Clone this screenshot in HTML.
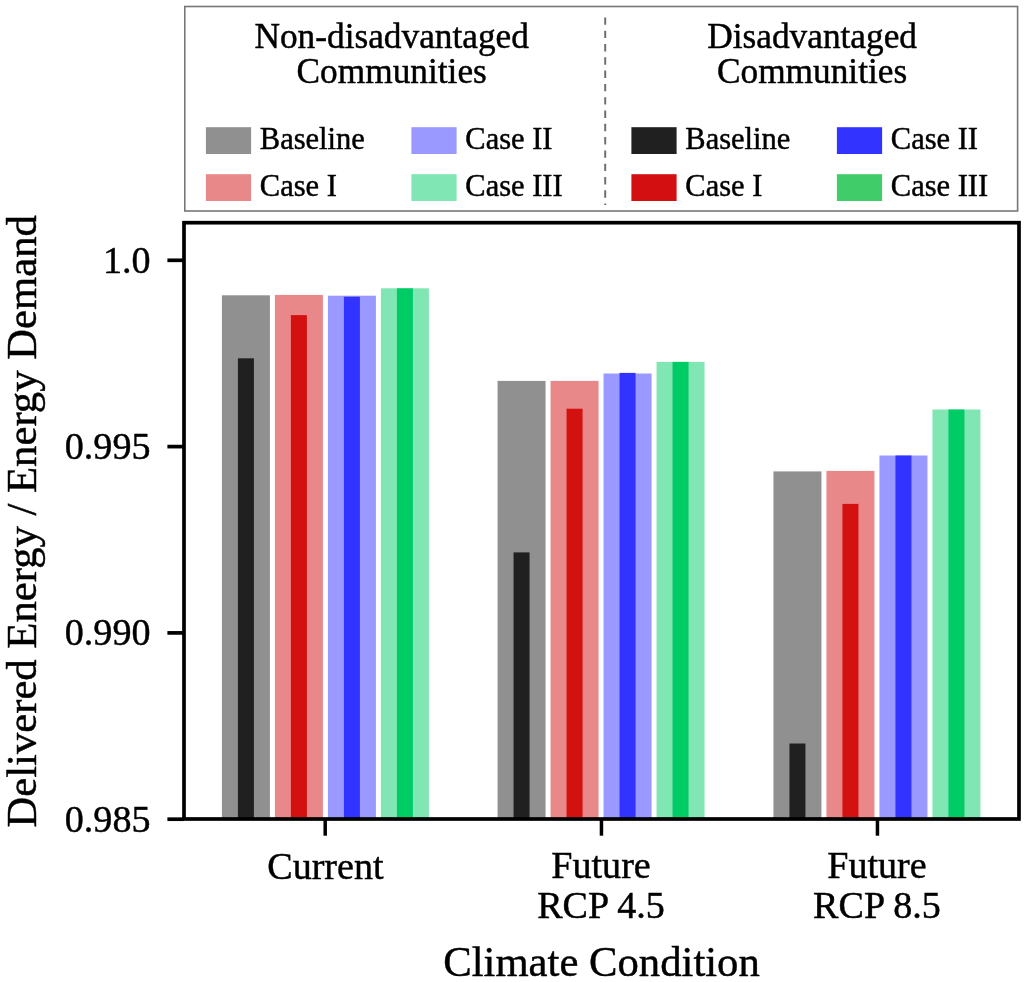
<!DOCTYPE html><html><head><meta charset="utf-8"><style>html,body{margin:0;padding:0;background:#fff;width:1026px;height:982px;overflow:hidden}svg{display:block;will-change:transform}text{font-family:"Liberation Serif",serif;fill:#000;stroke:#000;stroke-width:0.45px;paint-order:stroke}</style></head><body>
<svg width="1026" height="982" viewBox="0 0 1026 982">
<rect x="0" y="0" width="1026" height="982" fill="#fff"/>
<rect x="221.90" y="295.30" width="48" height="523.70" fill="#909090"/>
<rect x="237.90" y="358.30" width="16" height="460.70" fill="#202020"/>
<rect x="274.90" y="294.90" width="48" height="524.10" fill="#e98888"/>
<rect x="290.90" y="315.10" width="16" height="503.90" fill="#d41111"/>
<rect x="327.90" y="295.70" width="48" height="523.30" fill="#9999ff"/>
<rect x="343.90" y="296.80" width="16" height="522.20" fill="#3333ff"/>
<rect x="380.90" y="288.30" width="48" height="530.70" fill="#80e6b3"/>
<rect x="396.90" y="288.30" width="16" height="530.70" fill="#00cc66"/>
<rect x="497.55" y="380.90" width="48" height="438.10" fill="#909090"/>
<rect x="513.55" y="552.40" width="16" height="266.60" fill="#202020"/>
<rect x="550.55" y="380.90" width="48" height="438.10" fill="#e98888"/>
<rect x="566.55" y="408.70" width="16" height="410.30" fill="#d41111"/>
<rect x="603.55" y="373.50" width="48" height="445.50" fill="#9999ff"/>
<rect x="619.55" y="372.90" width="16" height="446.10" fill="#3333ff"/>
<rect x="656.55" y="361.90" width="48" height="457.10" fill="#80e6b3"/>
<rect x="672.55" y="361.90" width="16" height="457.10" fill="#00cc66"/>
<rect x="773.45" y="471.40" width="48" height="347.60" fill="#909090"/>
<rect x="789.45" y="743.50" width="16" height="75.50" fill="#202020"/>
<rect x="826.45" y="470.90" width="48" height="348.10" fill="#e98888"/>
<rect x="842.45" y="503.90" width="16" height="315.10" fill="#d41111"/>
<rect x="879.45" y="455.50" width="48" height="363.50" fill="#9999ff"/>
<rect x="895.45" y="455.50" width="16" height="363.50" fill="#3333ff"/>
<rect x="932.45" y="409.50" width="48" height="409.50" fill="#80e6b3"/>
<rect x="948.45" y="409.50" width="16" height="409.50" fill="#00cc66"/>
<line x1="167.4" y1="260.3" x2="184" y2="260.3" stroke="#000" stroke-width="3.7"/>
<text x="150.5" y="272.8" font-size="38.1" text-anchor="end">1.0</text>
<line x1="167.4" y1="446.6" x2="184" y2="446.6" stroke="#000" stroke-width="3.7"/>
<text x="150.5" y="459.1" font-size="38.1" text-anchor="end">0.995</text>
<line x1="167.4" y1="632.9" x2="184" y2="632.9" stroke="#000" stroke-width="3.7"/>
<text x="150.5" y="645.4" font-size="38.1" text-anchor="end">0.990</text>
<line x1="167.4" y1="819.2" x2="184" y2="819.2" stroke="#000" stroke-width="3.7"/>
<text x="150.5" y="831.7" font-size="38.1" text-anchor="end">0.985</text>
<line x1="325.2" y1="819" x2="325.2" y2="835.7" stroke="#000" stroke-width="3.5"/>
<line x1="601.45" y1="819" x2="601.45" y2="835.7" stroke="#000" stroke-width="3.5"/>
<line x1="877.45" y1="819" x2="877.45" y2="835.7" stroke="#000" stroke-width="3.5"/>
<rect x="184" y="222.7" width="835" height="596.3" fill="none" stroke="#000" stroke-width="3.7"/>
<text x="325.4" y="878.5" font-size="38.1" text-anchor="middle">Current</text>
<text x="601.05" y="878" font-size="38.1" text-anchor="middle">Future</text>
<text x="601.05" y="918" font-size="38.1" text-anchor="middle">RCP 4.5</text>
<text x="876.95" y="878" font-size="38.1" text-anchor="middle">Future</text>
<text x="876.95" y="918" font-size="38.1" text-anchor="middle">RCP 8.5</text>
<text x="601.5" y="975.8" font-size="42.7" text-anchor="middle">Climate Condition</text>
<text transform="translate(36,521.4) rotate(-90)" x="0" y="0" font-size="42.7" text-anchor="middle">Delivered Energy / Energy Demand</text>
<rect x="184.8" y="6.5" width="832.8" height="204.5" fill="#fff" stroke="#777" stroke-width="1.6"/>
<line x1="605.2" y1="17.4" x2="605.2" y2="205" stroke="#707070" stroke-width="2" stroke-dasharray="7.4 5.9"/>
<text x="391.7" y="47.7" font-size="35.3" text-anchor="middle">Non-disadvantaged</text>
<text x="391.7" y="83.2" font-size="35.3" text-anchor="middle">Communities</text>
<text x="812.1" y="47.7" font-size="35.3" text-anchor="middle">Disadvantaged</text>
<text x="812.1" y="83.2" font-size="35.3" text-anchor="middle">Communities</text>
<rect x="205.9" y="127.2" width="45.2" height="26.8" fill="#909090"/>
<text x="259.8" y="148.7" font-size="30.5">Baseline</text>
<rect x="205.9" y="174.2" width="45.2" height="26.8" fill="#e98888"/>
<text x="259.8" y="196.1" font-size="30.5">Case I</text>
<rect x="411.4" y="127.2" width="45.2" height="26.8" fill="#9999ff"/>
<text x="465.3" y="148.7" font-size="30.5">Case II</text>
<rect x="411.4" y="174.2" width="45.2" height="26.8" fill="#80e6b3"/>
<text x="465.3" y="196.1" font-size="30.5">Case III</text>
<rect x="631.4" y="127.2" width="45.2" height="26.8" fill="#202020"/>
<text x="685.3" y="148.7" font-size="30.5">Baseline</text>
<rect x="631.4" y="174.2" width="45.2" height="26.8" fill="#d40f12"/>
<text x="685.3" y="196.1" font-size="30.5">Case I</text>
<rect x="836.9" y="127.2" width="45.2" height="26.8" fill="#3333ff"/>
<text x="890.8" y="148.7" font-size="30.5">Case II</text>
<rect x="836.9" y="174.2" width="45.2" height="26.8" fill="#40cc68"/>
<text x="890.8" y="196.1" font-size="30.5">Case III</text>
</svg></body></html>
